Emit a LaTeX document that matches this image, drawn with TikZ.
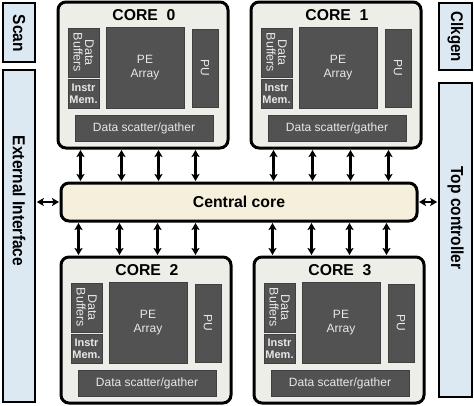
\documentclass[tikz,border=0pt]{standalone}
\usepackage{fontspec}
\setmainfont{Liberation Sans}
\usetikzlibrary{arrows.meta}
\definecolor{corefill}{HTML}{EEEEE8}
\definecolor{blk}{HTML}{525252}
\definecolor{blktext}{HTML}{E8E8E8}
\definecolor{barfill}{HTML}{DCE8F2}
\definecolor{ccfill}{HTML}{F4F0DC}
\tikzset{
  corebox/.style={draw=black, line width=3pt, rounded corners=8pt, fill=corefill, inner sep=0pt},
  blkbox/.style={draw=black!75, line width=0.8pt, fill=blk, inner sep=0pt},
  blktxt/.style={text=blktext, inner sep=0pt, align=center, font=\fontsize{12}{12}\selectfont},
  smalltxt/.style={text=blktext, inner sep=0pt, align=center, font=\fontsize{11}{12}\selectfont\bfseries},
  coretitle/.style={inner sep=0pt, font=\fontsize{15.75}{16}\selectfont\bfseries},
  barbox/.style={draw=black, line width=2.6pt, fill=barfill, inner sep=0pt},
  bartxt/.style={inner sep=0pt, rotate=-90, font=\fontsize{15.5}{16}\selectfont\bfseries},
  ccbox/.style={draw=black, line width=3pt, rounded corners=8pt, fill=ccfill, inner sep=0pt, font=\fontsize{15.8}{16}\selectfont\bfseries},
  bi/.style={line width=2.4pt, {Stealth[length=7pt,width=8pt,inset=1.5pt]}-{Stealth[length=7pt,width=8pt,inset=1.5pt]}, shorten <=0.5pt, shorten >=0.5pt}
}
\newcommand\drawcore[4]{%
  \begin{scope}[shift={(#2,#3)}]
    \node[corebox, minimum width=170pt, minimum height=146pt] (#1) at (85,73) {};
    \node[coretitle] (#1t) at (86,13.5) {CORE\ \ #4};
    \node[blkbox, minimum width=31pt, minimum height=49pt] (#1db) at (25.5,50.5) {};
    \node[blktxt, rotate=-90, font=\fontsize{12.5}{11.5}\selectfont] (#1dbt) at (#1db) {Data\\Buffers};
    \node[blkbox, minimum width=31pt, minimum height=29pt] (#1im) at (25.5,92) {};
    \node[smalltxt] (#1imt) at (#1im) {Instr\\Mem.};
    \node[blkbox, minimum width=78pt, minimum height=81pt] (#1pe) at (87,65.5) {};
    \node[blktxt, font=\fontsize{12}{14}\selectfont] (#1pet) at (#1pe) {PE\\Array};
    \node[blkbox, minimum width=26pt, minimum height=78pt] (#1pu) at (147,66) {};
    \node[blktxt, rotate=-90] (#1put) at (#1pu) {PU};
    \node[blkbox, minimum width=138pt, minimum height=26pt] (#1ds) at (86,126.5) {};
    \node[blktxt] (#1dst) at (#1ds) {Data scatter/gather};
  \end{scope}}
\begin{document}
\begin{tikzpicture}[x=1pt,y=-1pt]
\useasboundingbox (0,0) rectangle (474,405);
% side bars
\node[barbox, minimum width=32pt, minimum height=59pt] (scan) at (19,32.5) {};
\node[bartxt] (scant) at (19,33.5) {\scalebox{1}[1.12]{Scan}};
\node[barbox, minimum width=32pt, minimum height=332pt] (ext) at (19,236) {};
\node[bartxt] (extt) at (19,201) {\scalebox{1}[1.12]{External Interface}};
\node[barbox, minimum width=33pt, minimum height=67pt] (clk) at (455.5,36.5) {};
\node[bartxt, font=\fontsize{15}{16}\selectfont\bfseries] (clkt) at (455.5,37) {\scalebox{1}[1.12]{Clkgen}};
\node[barbox, minimum width=33pt, minimum height=314pt] (top) at (455.5,240) {};
\node[bartxt] (topt) at (455.5,218) {\scalebox{1}[1.12]{Top controller}};
% cores
\drawcore{c0}{58}{2}{0}
\drawcore{c1}{251}{2}{1}
\drawcore{c2}{61}{257}{2}
\drawcore{c3}{254}{257}{3}
% central core
\node[ccbox, minimum width=356pt, minimum height=38pt] (cc) at (239,202) {Central core};
% arrows
\foreach \c/\xs in {c0/24,c0/65,c0/102,c0/139,c1/24,c1/63,c1/101,c1/139}{
  \draw[bi] ([xshift=\xs pt]\c.south west) -- ([xshift=\xs pt]\c.south west |- cc.north);
}
\foreach \c/\xs in {c2/19,c2/60,c2/98,c2/136,c3/20,c3/59,c3/97,c3/134}{
  \draw[bi] ([xshift=\xs pt]\c.north west) -- ([xshift=\xs pt]\c.north west |- cc.south);
}
\draw[bi] (ext.east |- cc.west) -- (cc.west);
\draw[bi] (cc.east) -- (top.west |- cc.east);
\end{tikzpicture}
\end{document}
